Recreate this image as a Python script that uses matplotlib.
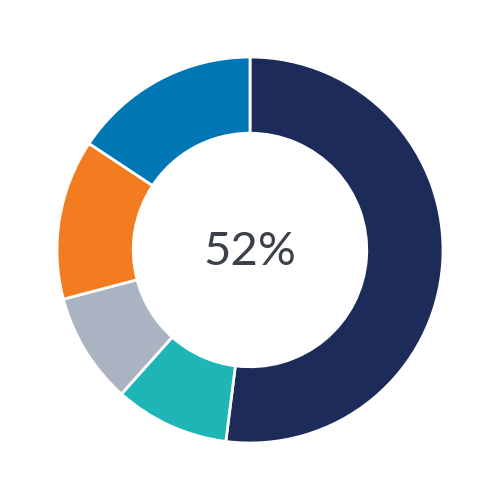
import matplotlib.pyplot as plt

# Data
segments = ['Navy', 'Teal', 'Gray', 'Orange', 'Blue']
shares = [52, 9.6, 9.3, 13.4, 15.7]
colors = ['#1c2b5a', '#1db5b5', '#a9b3c1', '#f37c20', '#0077b5']
center_label = '52%'

fig = plt.figure(figsize=(5, 5), dpi=100)
ax = fig.add_axes([0, 0, 1, 1])

ax.pie(shares, colors=colors, startangle=90, counterclock=False,
       radius=1.0,
       wedgeprops=dict(width=0.395, edgecolor='white', linewidth=2))

ax.text(0, -0.01, center_label, ha='center', va='center', fontsize=34,
        color='#3b4049', family='Lato')

lim = 250 / 193
ax.set_xlim(-lim, lim)
ax.set_ylim(-lim, lim)
ax.set_aspect('equal')
ax.axis('off')

plt.savefig('out.png', dpi=100, facecolor='white')
